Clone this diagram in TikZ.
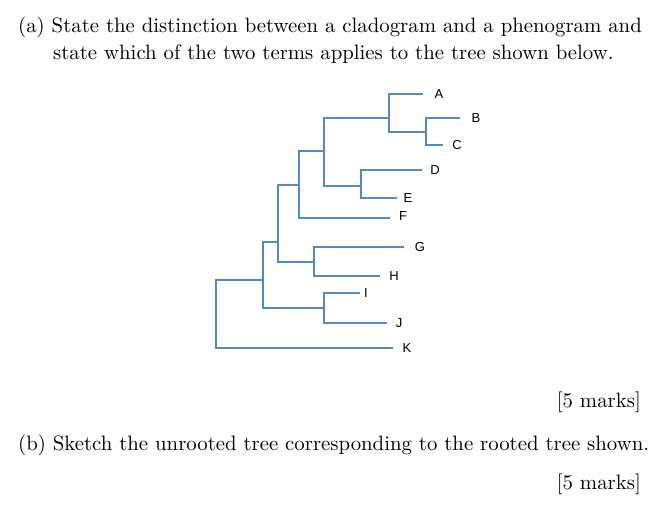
\documentclass[tikz,border=0pt]{standalone}
\usepackage{fontspec}
\setmainfont{lmroman10-regular.otf}
\newfontfamily\lab{Liberation Sans}
\definecolor{br}{RGB}{86,136,196}
\begin{document}
\begin{tikzpicture}[x=1pt,y=-1pt,
  br/.style={draw=br,line width=2.2pt},
  lf/.style={font=\lab\fontsize{13}{13}\selectfont,inner sep=0pt},
  tx/.style={font=\fontsize{20.8}{24}\selectfont,inner sep=0pt,anchor=base west}]
\useasboundingbox (0,0) rectangle (665,507);
\node[tx] (l1) at (18,32) {(a) State the distinction between a cladogram and a phenogram and};
\node[tx] (l2) at (53,59) {state which of the two terms applies to the tree shown below.};
\node[tx,anchor=base east] (m1) at (641,407) {[5 marks]};
\node[tx] (l3) at (18,450) {(b) Sketch the unrooted tree corresponding to the rooted tree shown.};
\node[tx,anchor=base east] (m2) at (641,489) {[5 marks]};
% tips
\coordinate (A) at (423,94); \coordinate (B) at (460,118); \coordinate (C) at (443,145);
\coordinate (D) at (422,170); \coordinate (E) at (397,198); \coordinate (F) at (390,218);
\coordinate (G) at (404,247); \coordinate (H) at (380,276); \coordinate (I) at (360,293);
\coordinate (J) at (387,323); \coordinate (K) at (393,348);
\foreach \n/\x/\y in {A/439/94,B/476/118,C/457/145,D/435/170,E/408/198,F/403/216,G/420/247,H/394/276,I/366/293,J/399/323,K/407/348}
  \node[lf] (t\n) at (\x,\y) {\n};
% internal nodes
\draw[br] (A) -| (389,132) -| (426,118) -- (B);
\draw[br] (426,118) |- (C);
\draw[br] (389,94) -- (389,132);
\draw[br] (D) -| (361,186) |- (E);
\draw[br] (389,118) -- (324,118) |- (361,186);
\draw[br] (324,151) -- (299,151) |- (F);
\draw[br] (299,151) |- (278,185) |- (314,262);
\draw[br] (G) -| (314,276) -- (H);
\draw[br] (278,185) -- (278,242) -- (263,242) |- (324,308);
\draw[br] (I) -| (324,323) -- (J);
\draw[br] (263,280) -- (216,280) |- (K);
\end{tikzpicture}
\end{document}
